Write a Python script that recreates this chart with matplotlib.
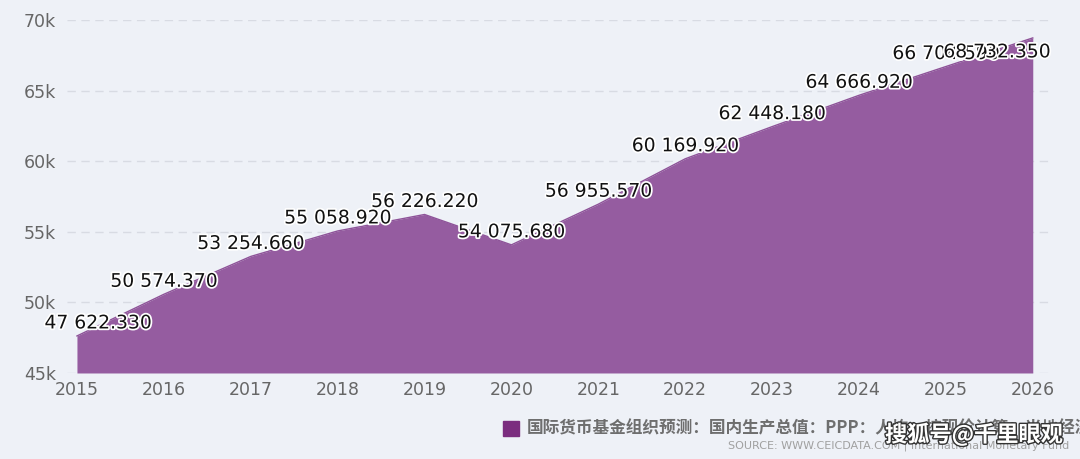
import matplotlib.pyplot as plt
import matplotlib.patheffects as pe
from matplotlib.ticker import FuncFormatter

years = [2015, 2016, 2017, 2018, 2019, 2020, 2021, 2022, 2023, 2024, 2025, 2026]
values = [47622.330, 50574.370, 53254.660, 55058.920, 56226.220, 54075.680,
          56955.570, 60169.920, 62448.180, 64666.920, 66704.590, 68732.350]
y_ticks = [45000, 50000, 55000, 60000, 65000, 70000]

legend_text = "国际货币基金组织预测：国内生产总值：PPP：人均：按现价计算：当地经济体"
source_text = "SOURCE: WWW.CEICDATA.COM | International Monetary Fund"
watermark = "搜狐号@千里眼观"

bg = "#eef1f7"
fill_col = "#955ca0"

plt.rcParams['font.family'] = ['DejaVu Sans']

fig = plt.figure(figsize=(10.8, 4.59), dpi=100, facecolor=bg)
ax = fig.add_axes([0.062, 0.1874, 0.910, 0.769], facecolor=bg)

ax.fill_between(years, values, 45000, color=fill_col, lw=0, zorder=2)
ax.plot(years, values, color="#8e5399", lw=1, zorder=3)

ax.set_ylim(45000, 70000)
ax.set_xlim(2015 - 10 / 86.9, 2026 + 17 / 86.9)
ax.set_yticks(y_ticks)
ax.yaxis.set_major_formatter(FuncFormatter(lambda v, p: f"{int(v / 1000)}k"))
ax.set_xticks(years)
ax.tick_params(axis='both', length=0, labelsize=12.5, labelcolor="#666666")
ax.tick_params(axis='x', pad=6)
ax.tick_params(axis='y', pad=8)
ax.grid(axis='y', color="#d8dbe3", linestyle=(0, (6, 4)), lw=1, zorder=1)
for s in ax.spines.values():
    s.set_visible(False)

# data labels, nudged at the ends like the original
for i, (x, v) in enumerate(zip(years, values)):
    dx, dy = 0, 13
    if i == 0:
        dx = 21
    elif i == len(years) - 1:
        dx, dy = -36, -14
    txt = f"{v:,.3f}".replace(",", " ")
    ax.annotate(txt, (x, v), xytext=(dx, dy), textcoords="offset pixels",
                ha="center", va="center", fontsize=13.5, color="#111111",
                path_effects=[pe.withStroke(linewidth=2.5, foreground="white")],
                zorder=5, annotation_clip=False)

# legend row
fig.patches.append(plt.Rectangle((503 / 1080, 1 - 436 / 459), 16 / 1080, 15 / 459,
                                 transform=fig.transFigure, color="#7b2d7f"))
fig.text(527 / 1080, 1 - 428 / 459, legend_text, fontsize=12, fontweight="bold",
         color="#6e6e6e", va="center", ha="left",
         family=["Noto Sans CJK SC", "DejaVu Sans"])
fig.text(728 / 1080, 1 - 446 / 459, source_text, fontsize=8, color="#a0a0a0",
         va="center", ha="left")
fig.text(885 / 1080, 1 - 435 / 459, watermark, fontsize=16, fontweight="bold",
         color="white", va="center", ha="left",
         family=["Noto Sans CJK SC", "DejaVu Sans"],
         path_effects=[pe.withStroke(linewidth=2, foreground="#333333")])

fig.savefig("out.png", dpi=100, facecolor=bg)
